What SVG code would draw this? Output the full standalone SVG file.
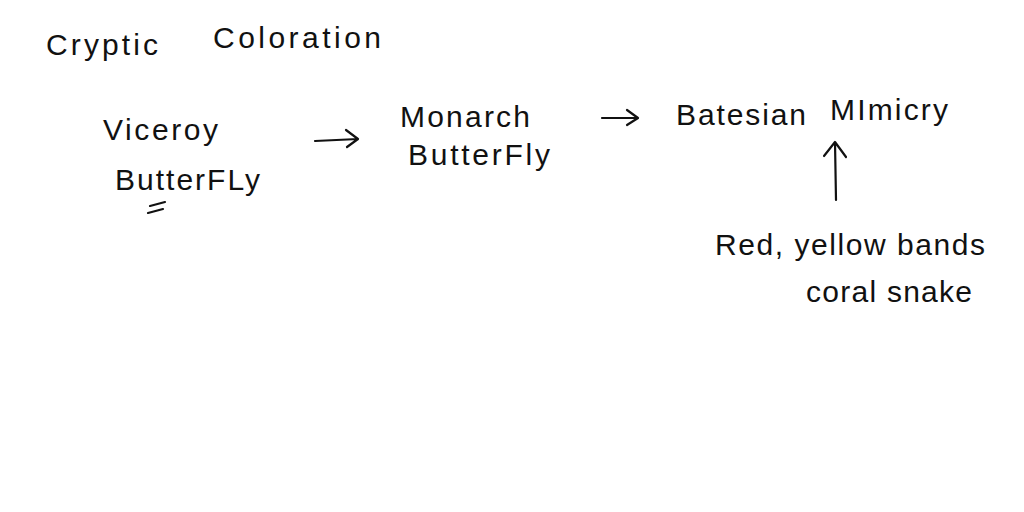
<svg xmlns="http://www.w3.org/2000/svg" width="1024" height="512" viewBox="0 0 1024 512">
<style>
text{font-family:"Liberation Sans",Arial,sans-serif;fill:#111;font-size:30px}
.c{stroke:#111;stroke-width:2.2;fill:none;stroke-linecap:round;stroke-linejoin:round}
</style>
<rect width="1024" height="512" fill="#fff"/>
<g id="title"><text x="46" y="55" font-size="34" textLength="112">Cryptic</text><text x="213" y="48" font-size="34" textLength="168">Coloration</text></g>
<g id="viceroy"><text x="103" y="140" textLength="115">Viceroy</text><text x="115" y="190" textLength="145">ButterFLy</text>
<path class="c" d="M150 206 L165 202 M148 213 L163 209"/></g>
<g id="monarch"><text x="400" y="127" textLength="130">Monarch</text><text x="408" y="165" textLength="142">ButterFly</text></g>
<g id="batesian"><text x="676" y="125" textLength="130">Batesian</text><text x="830" y="120" textLength="118">MImicry</text></g>
<g id="coral"><text x="715" y="255" textLength="270">Red, yellow bands</text><text x="806" y="302" textLength="166">coral snake</text></g>
<g id="connectors">
<path class="c" d="M315 141 L358 139 M346 130 L358 139 L347 147"/>
<path class="c" d="M602 118 L638 118 M627 110 L638 118 L627 125"/>
<path class="c" d="M836 200 L835 142 M824 156 L835 142 L846 157"/>
</g>
</svg>
